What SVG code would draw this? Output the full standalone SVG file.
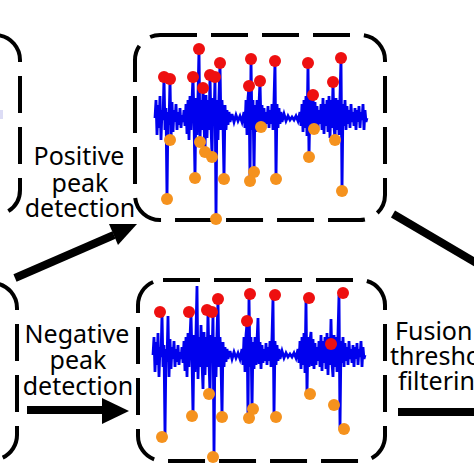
<svg xmlns="http://www.w3.org/2000/svg" width="474" height="474" viewBox="0 0 474 474">
<style>
.box{fill:none;stroke:#000;stroke-width:4;stroke-dasharray:37 14}
.lbl{font-family:"Noto Sans","DejaVu Sans",sans-serif;font-size:25px;fill:#000}
.sig{fill:none;stroke:#0000ee;stroke-width:2.8;stroke-linejoin:miter}
.pk{fill:#ee1010}
.vl{fill:#f5921e}
.ar{stroke:#000;stroke-width:8;fill:none}
</style>
<defs>
<polyline id="wave" class="sig" points="155,118 156,100 157,135 158,105 159,128 160,96 161,140 162,110 163,120 164,77 165,130 166,108 167,199 168,112 169,125 170,79 171,140 172,102 173,132 174,110 175,122 176,104 177,130 178,112 179,125 180,108 181,128 182,115 183,122 184,110 185,126 186,104 187,134 188,100 189,140 190,96 191,130 192,100 193,77 194,120 195,178 196,98 197,135 198,95 199,49 200,142 201,100 202,130 203,88 204,125 205,152 206,95 207,138 208,100 209,130 210,75 211,125 212,157 213,98 214,120 215,77 216,219 217,100 218,140 219,96 220,63 221,130 222,100 223,125 224,179 225,105 226,130 227,110 228,125 229,112 230,122 232,114 234,122 236,115 238,121 240,116 242,122 244,112 245,128 246,100 247,135 248,98 249,86 250,181 251,59 252,130 253,100 254,172 255,105 256,132 257,100 258,128 259,104 260,81 261,127 262,105 263,132 264,108 265,126 266,112 267,124 268,106 269,128 270,110 271,124 272,104 273,130 274,100 275,61 276,179 277,104 278,128 279,108 280,124 281,112 282,122 284,114 286,121 288,116 290,120 292,117 294,120 296,116 298,121 300,112 301,126 302,104 303,132 304,100 305,128 306,96 307,136 308,63 309,157 310,100 311,130 312,104 313,95 314,129 315,102 316,132 317,106 318,128 319,110 320,124 321,104 322,130 323,98 324,134 325,104 326,126 327,100 328,132 329,96 330,138 331,100 332,128 333,82 334,126 335,140 336,98 337,130 338,100 339,135 340,96 341,58 342,191 343,104 344,126 345,100 346,130 347,106 348,124 349,110 350,128 351,104 352,122 353,112 354,126 355,108 356,130 357,110 358,122 359,106 360,128 361,112 362,120 363,104 364,130 365,110 366,122 367,118"/>
</defs>
<rect width="474" height="474" fill="#fff"/>
<g id="node-left-top">
<rect class="box" x="-230" y="35" width="250" height="180" rx="25"/>
<rect x="0" y="110" width="3" height="9" fill="#dcdcf5"/>
</g>
<g id="node-left-bottom">
<rect class="box" x="-233" y="283" width="250" height="177" rx="25"/>
</g>
<g id="node-positive">
<rect class="box" x="135" y="35" width="250" height="185" rx="25"/>
<use href="#wave"/>
<g class="pk">
<circle cx="164" cy="77" r="6"/><circle cx="170" cy="79" r="6"/><circle cx="199" cy="49" r="6"/><circle cx="193" cy="77" r="6"/><circle cx="203" cy="88" r="6"/><circle cx="210" cy="75" r="6"/><circle cx="215" cy="77" r="6"/><circle cx="220" cy="63" r="6"/><circle cx="251" cy="59" r="6"/><circle cx="249" cy="86" r="6"/><circle cx="260" cy="81" r="6"/><circle cx="275" cy="61" r="6"/><circle cx="308" cy="63" r="6"/><circle cx="313" cy="95" r="6"/><circle cx="333" cy="82" r="6"/><circle cx="341" cy="58" r="6"/>
</g>
<g class="vl">
<circle cx="170" cy="140" r="6"/><circle cx="200" cy="142" r="6"/><circle cx="205" cy="152" r="6"/><circle cx="212" cy="157" r="6"/><circle cx="195" cy="178" r="6"/><circle cx="224" cy="179" r="6"/><circle cx="167" cy="199" r="6"/><circle cx="216" cy="219" r="6"/><circle cx="254" cy="172" r="6"/><circle cx="250" cy="181" r="6"/><circle cx="261" cy="127" r="6"/><circle cx="276" cy="179" r="6"/><circle cx="314" cy="129" r="6"/><circle cx="309" cy="157" r="6"/><circle cx="335" cy="140" r="6"/><circle cx="342" cy="191" r="6"/>
</g>
</g>
<g id="node-negative">
<rect class="box" x="138" y="280" width="247" height="181" rx="25"/>
<use href="#wave" transform="translate(-2,237)"/>
<g class="pk">
<circle cx="160" cy="312" r="6"/><circle cx="189" cy="312" r="6"/><circle cx="207" cy="310" r="6"/><circle cx="212" cy="312" r="6"/><circle cx="218" cy="299" r="6"/><circle cx="250" cy="294" r="6"/><circle cx="247" cy="321" r="6"/><circle cx="275" cy="295" r="6"/><circle cx="309" cy="298" r="6"/><circle cx="343" cy="293" r="6"/><circle cx="331" cy="344" r="6"/>
</g>
<g class="vl">
<circle cx="162" cy="437" r="6"/><circle cx="192" cy="416" r="6"/><circle cx="209" cy="394" r="6"/><circle cx="213" cy="457" r="6"/><circle cx="222" cy="417" r="6"/><circle cx="249" cy="418" r="6"/><circle cx="253" cy="409" r="6"/><circle cx="276" cy="417" r="6"/><circle cx="310" cy="394" r="6"/><circle cx="334" cy="405" r="6"/><circle cx="344" cy="429" r="6"/>
</g>
</g>
<g id="connectors">
<line class="ar" x1="15" y1="278" x2="114" y2="235"/>
<polygon points="137,224 118,245 109,224"/>
<line class="ar" x1="27" y1="410" x2="105" y2="410" stroke-width="9"/>
<polygon points="102,398 129,411 102,424"/>
<line class="ar" x1="398" y1="412" x2="476" y2="412"/>
<line class="ar" x1="393" y1="214" x2="478" y2="264"/>
</g>
<g id="labels">
<text class="lbl" x="79" y="165" text-anchor="middle">Positive</text>
<text class="lbl" x="80" y="192" text-anchor="middle">peak</text>
<text class="lbl" x="80" y="217" text-anchor="middle">detection</text>
<text class="lbl" x="77" y="343" text-anchor="middle">Negative</text>
<text class="lbl" x="78" y="369" text-anchor="middle">peak</text>
<text class="lbl" x="78" y="395" text-anchor="middle">detection</text>
<text class="lbl" x="395" y="340">Fusion</text>
<text class="lbl" x="390" y="365">threshold</text>
<text class="lbl" x="398" y="390">filtering</text>
</g>
</svg>
